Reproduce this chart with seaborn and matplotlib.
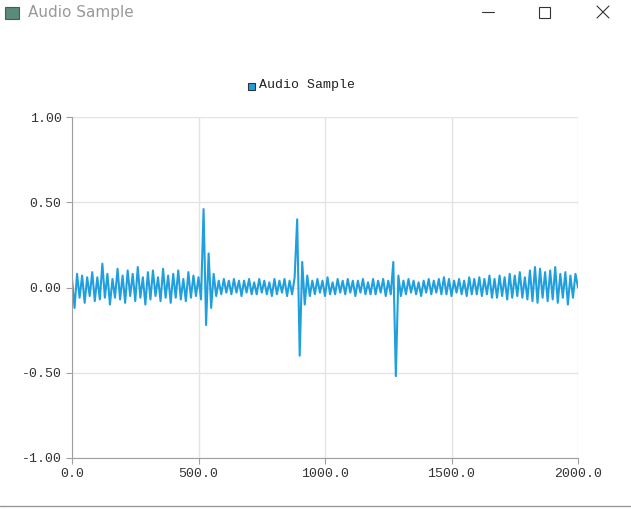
import matplotlib
matplotlib.use("Agg")
import matplotlib.pyplot as plt
import seaborn as sns
import pandas as pd
from matplotlib.patches import Rectangle

# sample index (step 10) and amplitude values
sample_idx = list(range(0, 2001, 10))
amplitude = [
 0.05,-0.12,0.08,-0.06,0.07,-0.09,0.06,-0.05,0.09,-0.08,
 0.06,-0.07,0.14,-0.06,0.08,-0.10,0.05,-0.06,0.11,-0.07,
 0.07,-0.09,0.10,-0.05,0.08,-0.08,0.12,-0.06,0.06,-0.10,
 0.09,-0.07,0.10,-0.05,0.06,-0.08,0.11,-0.06,0.07,-0.09,
 0.08,-0.06,0.10,-0.07,0.05,-0.08,0.09,-0.06,0.07,-0.05,
 0.06,-0.07,0.46,-0.22,0.20,-0.12,0.08,-0.05,0.04,-0.04,
 0.05,-0.03,0.04,-0.04,0.05,-0.03,0.04,-0.05,0.04,-0.03,
 0.05,-0.04,0.03,-0.04,0.05,-0.03,0.04,-0.04,0.03,-0.05,
 0.05,-0.04,0.04,-0.03,0.05,-0.05,0.04,-0.04,0.06,0.40,
 -0.40,0.15,-0.10,0.07,-0.05,0.04,-0.04,0.05,-0.03,0.04,
 -0.05,0.06,-0.04,0.03,-0.04,0.05,-0.03,0.04,-0.04,0.05,
 -0.03,0.04,-0.05,0.04,-0.03,0.05,-0.04,0.03,-0.04,0.05,
 -0.04,0.04,-0.03,0.05,-0.05,0.04,-0.04,0.15,-0.52,0.07,
 -0.05,0.04,-0.04,0.05,-0.03,0.04,-0.04,0.03,-0.05,0.04,
 -0.03,0.05,-0.04,0.04,-0.03,0.05,-0.04,0.06,-0.04,0.05,
 -0.05,0.04,-0.03,0.05,-0.04,0.04,-0.05,0.06,-0.04,0.05,
 -0.04,0.06,-0.05,0.05,-0.04,0.07,-0.06,0.05,-0.06,0.07,
 -0.05,0.06,-0.07,0.08,-0.06,0.07,-0.05,0.09,-0.06,0.06,
 -0.07,0.10,-0.08,0.12,-0.09,0.11,-0.06,0.09,-0.08,0.10,
 -0.07,0.12,-0.09,0.08,-0.06,0.09,-0.10,0.07,-0.06,0.08,
 0.00,
]
df = pd.DataFrame({"x": sample_idx, "y": amplitude})

sns.set_style("white")
plt.rcParams['font.family'] = ['Liberation Mono', 'DejaVu Sans Mono']
W, H = 631, 509
fig = plt.figure(figsize=(W/100, H/100), dpi=100)
ax = fig.add_axes([72/W, 1-458/H, (578-72)/W, (458-117)/H])
c = '#209fdf'
sns.lineplot(data=df, x="x", y="y", ax=ax, color=c, lw=1.5)
ax.set_xlim(0, 2000); ax.set_ylim(-1, 1)
ax.set_xticks([0, 500, 1000, 1500, 2000])
ax.set_xticklabels(["0.0", "500.0", "1000.0", "1500.0", "2000.0"])
ax.set_yticks([-1, -0.5, 0, 0.5, 1])
ax.set_yticklabels(["-1.00", "-0.50", "0.00", "0.50", "1.00"])
ax.grid(True, color='#e4e4e4', lw=1)
ax.set_xlabel(""); ax.set_ylabel("")
for s in ["top", "right"]:
    ax.spines[s].set_visible(False)
for s in ["left", "bottom"]:
    ax.spines[s].set_color('#a0a0a0')
ax.tick_params(axis='both', length=4, color='#a0a0a0', labelsize=9.5, colors='#333333', left=True, bottom=True)
# legend
fig.patches.append(Rectangle((248/W, 1-90/H), 7/W, 7/H, transform=fig.transFigure, facecolor=c, edgecolor='#333333', lw=0.8))
fig.text(259/W, 1-85/H, "Audio Sample", fontsize=9.5, va='center', color='#222222')
# window title bar
fig.patches.append(Rectangle((5/W, 1-19/H), 14/W, 12/H, transform=fig.transFigure, facecolor='#5a8a7a', edgecolor='#555555', lw=0.8))
fig.text(28/W, 1-13/H, "Audio Sample", fontsize=11, va='center', color='#999999', family='DejaVu Sans')
fig.lines.append(plt.Line2D([482/W, 494/W], [1-12/H]*2, transform=fig.transFigure, color='#333333', lw=0.8))
fig.patches.append(Rectangle((539/W, 1-18/H), 11/W, 11/H, transform=fig.transFigure, fill=False, edgecolor='#333333', lw=0.8))
fig.lines.append(plt.Line2D([597/W, 609/W], [1-6/H, 1-18/H], transform=fig.transFigure, color='#333333', lw=0.8))
fig.lines.append(plt.Line2D([597/W, 609/W], [1-18/H, 1-6/H], transform=fig.transFigure, color='#333333', lw=0.8))
fig.lines.append(plt.Line2D([0, 1], [1-506/H]*2, transform=fig.transFigure, color='#999999', lw=1))
fig.savefig("out.png", dpi=100)
